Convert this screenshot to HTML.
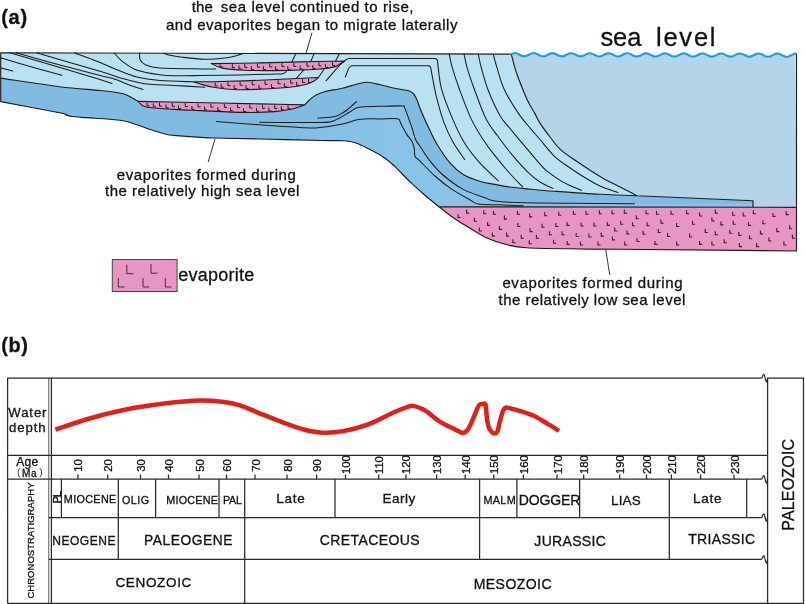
<!DOCTYPE html>
<html><head><meta charset="utf-8"><title>Figure</title>
<style>
html,body{margin:0;padding:0;background:#fff}
svg{display:block}
text{font-family:"Liberation Sans",sans-serif;fill:#111;stroke:#111;stroke-width:0.3px}
.cj{font-family:"Liberation Sans","Noto Sans CJK SC",sans-serif}
</style></head><body>
<svg width="805" height="604" viewBox="0 0 805 604">
<rect width="805" height="604" fill="#fff"/>
<path d="M0.7,101.6 C10.5,103.5 48.7,110.6 59.6,112.8 C70.5,115.0 63.9,114.3 66.0,114.9 C68.2,115.5 69.8,116.1 72.5,116.5 C75.2,116.9 78.2,117.1 82.0,117.4 C85.8,117.7 89.1,117.7 95.4,118.2 C101.7,118.7 114.2,119.6 120.0,120.3 C125.8,121.0 124.7,120.9 130.0,122.5 C135.3,124.1 145.8,128.0 152.0,130.0 C158.2,132.0 161.5,133.4 167.0,134.5 C172.5,135.6 177.2,135.7 185.0,136.3 C192.8,136.9 201.6,137.6 214.0,138.0 C226.4,138.4 241.9,138.6 259.6,139.0 C277.3,139.4 305.9,140.2 320.0,140.5 C334.1,140.8 338.0,140.4 344.0,140.8 C350.0,141.2 351.8,141.6 356.0,143.0 C360.2,144.4 364.3,146.6 369.0,149.0 C373.7,151.4 379.7,154.6 384.0,157.5 C388.3,160.4 390.7,162.7 395.0,166.7 C399.3,170.7 404.9,176.9 409.8,181.6 C414.8,186.3 419.9,190.8 424.7,195.0 C429.5,199.2 436.5,204.8 438.9,206.7 L753,207 L753,200.8 L637,195.8 C630.8,195.6 613.8,195.1 600.0,194.3 C586.2,193.6 567.0,192.2 554.5,191.3 C542.0,190.4 532.2,189.3 524.7,188.6 C517.2,187.9 514.4,187.7 509.4,187.0 C504.4,186.3 500.0,185.4 495.0,184.4 C490.0,183.4 484.9,182.8 479.6,181.2 C474.3,179.5 468.2,177.6 463.2,174.5 C458.2,171.4 454.3,167.8 449.8,162.6 C445.3,157.4 440.1,149.4 436.4,143.2 C432.7,137.0 430.1,130.9 427.5,125.3 C424.9,119.7 422.2,113.7 420.5,109.5 C418.8,105.3 418.1,102.5 417.0,100.0 C415.9,97.5 415.3,96.0 414.0,94.5 C412.7,93.0 412.6,92.0 409.4,91.0 C406.1,90.0 399.5,89.3 394.5,88.2 C389.5,87.1 384.1,85.5 379.6,84.5 C375.1,83.5 371.4,82.4 367.7,82.3 C364.0,82.2 361.5,83.0 357.3,84.0 C353.1,85.0 347.8,86.9 342.4,88.2 C336.9,89.5 329.1,90.5 324.6,91.7 C320.2,92.9 318.2,93.9 315.7,95.2 C313.2,96.5 311.5,98.1 309.7,99.7 C307.9,101.3 305.5,104.0 304.7,104.9 C297.2,104.7 273.7,104.2 259.6,103.9 C245.5,103.6 240.3,103.4 220.0,103.0 C199.7,102.6 151.7,101.7 138.0,101.4 C136.8,100.7 133.7,98.5 131.0,97.2 C128.3,95.9 127.2,94.6 122.0,93.5 C116.8,92.4 110.4,91.6 100.0,90.5 C89.6,89.4 76.2,88.8 59.6,86.7 C43.0,84.6 10.5,79.5 0.7,78.1 Z" fill="#82bbe2"/>
<defs><linearGradient id="gm" gradientUnits="userSpaceOnUse" x1="262" y1="0" x2="390" y2="0"><stop offset="0" stop-color="#82bbe2"/><stop offset="1" stop-color="#89c3e8"/></linearGradient></defs>
<path d="M259.6,122.3 C269.7,122.3 307.4,122.8 320.0,122.5 C332.6,122.2 330.0,122.0 335.0,120.3 C340.0,118.5 345.8,114.2 349.8,112.0 C353.8,109.8 353.8,108.2 358.8,107.3 C363.8,106.3 372.8,106.5 380.0,106.3 C387.2,106.1 397.9,105.7 402.0,105.9 C406.1,106.1 403.3,105.2 404.5,107.5 C405.7,109.8 407.8,116.1 409.0,119.5 C410.2,122.9 410.9,124.6 412.0,128.0 C413.1,131.4 414.5,137.0 415.8,140.0 C417.1,143.0 417.8,142.9 420.0,146.2 C422.2,149.5 425.2,154.9 428.9,159.6 C432.6,164.3 436.7,169.5 442.4,174.5 C448.1,179.5 456.2,185.6 463.2,189.4 C470.2,193.2 479.0,195.6 484.3,197.5 C489.6,199.4 488.3,200.1 495.0,201.0 C501.7,201.9 507.2,202.4 524.7,202.8 C542.2,203.2 581.7,203.2 600.0,203.4 C618.3,203.6 628.8,203.6 634.5,203.7 L753,203.7 L753,207 L438.9,206.7 C436.5,204.8 429.5,199.2 424.7,195.0 C419.9,190.8 414.8,186.3 409.8,181.6 C404.9,176.9 399.3,170.7 395.0,166.7 C390.7,162.7 388.3,160.4 384.0,157.5 C379.7,154.6 373.7,151.4 369.0,149.0 C364.3,146.6 360.2,144.4 356.0,143.0 C351.8,141.6 350.0,141.2 344.0,140.8 C338.0,140.4 334.1,140.8 320.0,140.5 C305.9,140.2 269.7,139.2 259.6,139.0 Z" fill="url(#gm)"/>
<path d="M0.7,52.7 L511.3,54.2 C511.9,56.4 513.5,63.1 514.8,67.4 C516.1,71.7 516.9,74.4 519.0,79.8 C521.1,85.2 524.7,94.4 527.3,100.0 C529.9,105.6 532.7,109.6 534.8,113.4 C536.9,117.2 537.5,119.2 540.0,123.1 C542.5,127.0 546.6,132.6 550.0,137.0 C553.4,141.4 556.0,145.5 560.5,149.6 C565.0,153.7 570.4,157.0 577.0,161.5 C583.6,166.0 592.8,172.2 600.0,176.4 C607.2,180.7 613.8,183.8 620.0,187.0 C626.2,190.2 634.2,194.3 637.0,195.8 C630.8,195.6 613.8,195.1 600.0,194.3 C586.2,193.6 567.0,192.2 554.5,191.3 C542.0,190.4 532.2,189.3 524.7,188.6 C517.2,187.9 514.4,187.7 509.4,187.0 C504.4,186.3 500.0,185.4 495.0,184.4 C490.0,183.4 484.9,182.8 479.6,181.2 C474.3,179.5 468.2,177.6 463.2,174.5 C458.2,171.4 454.3,167.8 449.8,162.6 C445.3,157.4 440.1,149.4 436.4,143.2 C432.7,137.0 430.1,130.9 427.5,125.3 C424.9,119.7 422.2,113.7 420.5,109.5 C418.8,105.3 418.1,102.5 417.0,100.0 C415.9,97.5 415.3,96.0 414.0,94.5 C412.7,93.0 412.6,92.0 409.4,91.0 C406.1,90.0 399.5,89.3 394.5,88.2 C389.5,87.1 384.1,85.5 379.6,84.5 C375.1,83.5 371.4,82.4 367.7,82.3 C364.0,82.2 361.5,83.0 357.3,84.0 C353.1,85.0 347.8,86.9 342.4,88.2 C336.9,89.5 329.1,90.5 324.6,91.7 C320.2,92.9 318.2,93.9 315.7,95.2 C313.2,96.5 311.5,98.1 309.7,99.7 C307.9,101.3 305.5,104.0 304.7,104.9 C297.2,104.7 273.7,104.2 259.6,103.9 C245.5,103.6 240.3,103.4 220.0,103.0 C199.7,102.6 151.7,101.7 138.0,101.4 C136.8,100.7 133.7,98.5 131.0,97.2 C128.3,95.9 127.2,94.6 122.0,93.5 C116.8,92.4 110.4,91.6 100.0,90.5 C89.6,89.4 76.2,88.8 59.6,86.7 C43.0,84.6 10.5,79.5 0.7,78.1 Z" fill="#b9e1f1"/>
<path d="M511.7,53.9 L514.0,53.2 L516.4,53.3 L518.7,54.3 L521.1,55.5 L523.4,56.3 L525.8,56.1 L528.1,55.2 L530.5,54.0 L532.8,53.2 L535.1,53.3 L537.5,54.3 L539.8,55.5 L542.2,56.3 L544.5,56.2 L546.9,55.2 L549.2,54.0 L551.5,53.2 L553.9,53.4 L556.2,54.3 L558.6,55.5 L560.9,56.3 L563.3,56.2 L565.6,55.2 L568.0,54.0 L570.3,53.3 L572.6,53.4 L575.0,54.3 L577.3,55.6 L579.7,56.3 L582.0,56.2 L584.4,55.3 L586.7,54.1 L589.0,53.3 L591.4,53.4 L593.7,54.4 L596.1,55.6 L598.4,56.4 L600.8,56.2 L603.1,55.3 L605.5,54.1 L607.8,53.3 L610.1,53.5 L612.5,54.4 L614.8,55.6 L617.2,56.4 L619.5,56.3 L621.9,55.3 L624.2,54.1 L626.5,53.3 L628.9,53.5 L631.2,54.4 L633.6,55.7 L635.9,56.4 L638.3,56.3 L640.6,55.4 L643.0,54.1 L645.3,53.4 L647.6,53.5 L650.0,54.5 L652.3,55.7 L654.7,56.5 L657.0,56.3 L659.4,55.4 L661.7,54.2 L664.0,53.4 L666.4,53.5 L668.7,54.5 L671.1,55.7 L673.4,56.5 L675.8,56.4 L678.1,55.4 L680.5,54.2 L682.8,53.4 L685.1,53.6 L687.5,54.5 L689.8,55.7 L692.2,56.5 L694.5,56.4 L696.9,55.4 L699.2,54.2 L701.5,53.5 L703.9,53.6 L706.2,54.6 L708.6,55.8 L710.9,56.6 L713.3,56.4 L715.6,55.5 L718.0,54.3 L720.3,53.5 L722.6,53.6 L725.0,54.6 L727.3,55.8 L729.7,56.6 L732.0,56.5 L734.4,55.5 L736.7,54.3 L739.0,53.5 L741.4,53.7 L743.7,54.6 L746.1,55.8 L748.4,56.6 L750.8,56.5 L753.1,55.5 L755.5,54.3 L757.8,53.6 L760.1,53.7 L762.5,54.6 L764.8,55.9 L767.2,56.6 L769.5,56.5 L771.9,55.6 L774.2,54.4 L776.5,53.6 L778.9,53.7 L781.2,54.7 L783.6,55.9 L785.9,56.7 L788.3,56.5 L790.6,55.6 L793.0,54.4 L795.3,53.6 L796.5,207.2 L753,207.2 L753,200.8 L637,195.8 C634.2,194.3 626.2,190.2 620.0,187.0 C613.8,183.8 607.2,180.7 600.0,176.4 C592.8,172.2 583.6,166.0 577.0,161.5 C570.4,157.0 565.0,153.7 560.5,149.6 C556.0,145.5 553.4,141.4 550.0,137.0 C546.6,132.6 542.5,127.0 540.0,123.1 C537.5,119.2 536.9,117.2 534.8,113.4 C532.7,109.6 529.9,105.6 527.3,100.0 C524.7,94.4 521.1,85.2 519.0,79.8 C516.9,74.4 516.1,71.7 514.8,67.4 C513.5,63.1 511.9,56.4 511.3,54.2 Z" fill="#b4d4ea"/>
<path d="M438.9,206.7 C441.1,208.4 447.2,213.4 452.3,217.0 C457.4,220.6 463.9,224.6 469.7,228.1 C475.5,231.6 480.8,235.2 487.0,238.0 C493.2,240.8 500.4,243.2 507.0,244.8 C513.6,246.4 516.5,247.1 526.8,247.8 C537.1,248.5 553.5,248.6 569.0,248.8 C584.5,249.1 611.5,249.2 620.0,249.3 L796.5,251 L796.5,207.3 L438.9,206.7 Z" fill="#e795c2"/>
<path d="M211.2,63.6 C219.3,63.5 245.2,63.2 260.0,62.9 C274.8,62.6 285.7,62.2 299.8,61.9 C313.9,61.6 337.1,61.1 344.6,61.0 C342.9,62.0 338.8,65.6 334.6,66.9 C330.4,68.2 325.4,68.5 319.6,69.0 C313.8,69.5 307.3,69.7 299.8,70.0 C292.3,70.3 283.7,70.5 274.5,70.6 C265.3,70.6 253.4,70.7 244.7,70.3 C236.0,69.9 228.0,69.2 222.4,68.1 C216.8,67.0 213.1,64.3 211.2,63.6 Z" fill="#e795c2" stroke="#1c1c1c" stroke-width="1.1" stroke-linejoin="round"/>
<path d="M193.0,81.8 C197.5,81.8 208.9,81.8 220.0,81.5 C231.1,81.2 246.8,80.8 259.6,80.3 C272.4,79.8 287.2,79.0 297.0,78.5 C306.8,78.0 314.8,77.7 318.4,77.5 C317.6,78.1 316.0,80.1 313.7,81.3 C311.4,82.5 308.7,83.8 304.7,84.8 C300.7,85.8 297.3,86.6 289.8,87.3 C282.3,88.0 268.4,88.8 259.6,89.2 C250.8,89.6 244.4,90.0 237.0,89.7 C229.6,89.4 221.2,88.5 215.0,87.5 C208.8,86.5 203.7,85.0 200.0,84.0 C196.3,83.0 194.2,82.2 193.0,81.8 Z" fill="#e795c2" stroke="#1c1c1c" stroke-width="1.1" stroke-linejoin="round"/>
<path d="M138.0,101.4 C151.7,101.7 199.7,102.6 220.0,103.0 C240.3,103.4 245.5,103.6 259.6,103.9 C273.7,104.2 297.2,104.7 304.7,104.9 C302.6,105.6 297.4,107.9 292.4,109.0 C287.4,110.1 282.4,111.0 274.5,111.6 C266.6,112.2 257.1,112.6 244.7,112.4 C232.3,112.2 211.7,111.1 200.0,110.6 C188.3,110.1 183.5,110.0 174.5,109.4 C165.5,108.8 152.1,108.3 146.0,107.0 C139.9,105.7 139.3,102.3 138.0,101.4 Z" fill="#e795c2" stroke="#1c1c1c" stroke-width="1.1" stroke-linejoin="round"/>
<path d="M220.2,64.4 v2.5 h2.6 M232.4,64.2 v3.4 h2.6 M239.0,65.4 V68.8 h2.6 M244.8,64.0 v3.4 h2.6 M251.3,66.1 V69.5 h2.6 M257.5,63.8 v3.4 h2.6 M263.4,66.2 V69.6 h2.6 M269.8,63.6 v3.4 h2.6 M275.6,66.3 V69.7 h2.6 M282.0,63.2 v3.4 h2.6 M287.8,66.0 V69.4 h2.6 M293.8,63.0 v3.4 h2.6 M300.1,65.7 V69.1 h2.6 M306.9,62.7 v3.4 h2.6 M312.8,65.0 V68.4 h2.6 M318.9,62.4 v3.4 h2.6 M325.4,63.9 V67.3 h2.6 M332.4,62.1 v3.4 h2.6 M215.2,82.5 v3.4 h2.6 M221.1,83.8 V87.2 h2.6 M227.9,82.2 v3.4 h2.6 M234.1,85.1 V88.5 h2.6 M240.1,81.8 v3.4 h2.6 M246.0,85.2 V88.6 h2.6 M252.2,81.4 v3.4 h2.6 M258.9,84.9 V88.3 h2.6 M265.0,80.9 v3.4 h2.6 M271.5,84.2 V87.6 h2.6 M278.0,80.3 v3.4 h2.6 M284.3,83.3 V86.7 h2.6 M290.7,79.7 v3.4 h2.6 M296.6,81.9 V85.3 h2.6 M302.5,79.1 v3.4 h2.6 M308.5,79.0 V82.4 h2.6 M147.0,102.5 v3.4 h2.6 M153.3,103.3 V106.7 h2.6 M159.5,102.7 v3.4 h2.6 M166.0,104.4 V107.8 h2.6 M172.3,103.0 v3.4 h2.6 M178.5,105.3 V108.7 h2.6 M185.2,103.2 v3.4 h2.6 M191.9,105.9 V109.3 h2.6 M198.0,103.5 v3.4 h2.6 M204.5,106.5 V109.9 h2.6 M210.9,103.7 v3.4 h2.6 M217.8,107.0 V110.4 h2.6 M224.4,104.0 v3.4 h2.6 M230.6,107.5 V110.9 h2.6 M237.5,104.3 v3.4 h2.6 M243.5,108.1 V111.5 h2.6 M249.8,104.6 v3.4 h2.6 M256.5,107.8 V111.2 h2.6 M262.5,104.9 v3.4 h2.6 M268.9,107.5 V110.9 h2.6 M274.7,105.1 v3.4 h2.6 M281.3,106.3 V109.7 h2.6 M288.0,105.4 v3.4 h2.6" fill="none" stroke="#2a1826" stroke-width="1"/>
<path d="M458.1,214.0 V217.5 h2.6 M466.6,209.6 V213.1 h2.6 M483.8,210.2 V213.7 h2.6 M493.5,210.7 V214.2 h2.6 M504.4,215.6 V219.1 h2.6 M517.4,210.7 V214.2 h2.6 M529.7,213.4 V216.9 h2.6 M544.7,212.2 V215.7 h2.6 M558.8,211.8 V215.3 h2.6 M573.3,210.7 V214.2 h2.6 M586.0,210.7 V214.2 h2.6 M599.4,210.2 V213.7 h2.6 M612.0,210.2 V213.7 h2.6 M474.4,217.8 V221.3 h2.6 M487.6,221.9 V225.4 h2.6 M499.5,225.9 V229.4 h2.6 M517.8,223.0 V226.5 h2.6 M542.0,223.7 V227.2 h2.6 M555.8,223.0 V226.5 h2.6 M567.0,221.9 V225.4 h2.6 M581.1,222.5 V226.0 h2.6 M593.9,222.5 V226.0 h2.6 M607.3,221.9 V225.4 h2.6 M614.7,227.5 V231.0 h2.6 M479.4,227.5 V231.0 h2.6 M492.3,232.6 V236.1 h2.6 M506.6,232.6 V236.1 h2.6 M530.1,228.1 V231.6 h2.6 M521.2,234.8 V238.3 h2.6 M536.4,234.8 V238.3 h2.6 M549.4,231.3 V234.8 h2.6 M562.1,231.3 V234.8 h2.6 M576.2,233.0 V236.5 h2.6 M588.9,233.5 V237.0 h2.6 M601.2,232.6 V236.1 h2.6 M612.4,236.4 V239.9 h2.6 M512.9,239.3 V242.8 h2.6 M529.2,240.2 V243.7 h2.6 M553.6,239.8 V243.3 h2.6 M567.2,240.9 V244.4 h2.6 M580.4,241.5 V245.0 h2.6 M597.9,241.5 V245.0 h2.6 M624.3,209.6 V213.1 h2.6 M646.0,210.2 V213.7 h2.6 M656.5,210.7 V214.2 h2.6 M671.0,210.7 V214.2 h2.6 M686.6,210.2 V213.7 h2.6 M699.6,212.5 V216.0 h2.6 M715.3,209.6 V213.1 h2.6 M732.7,211.8 V215.3 h2.6 M743.2,212.5 V216.0 h2.6 M753.3,210.2 V213.7 h2.6 M773.0,212.9 V216.4 h2.6 M786.2,211.1 V214.6 h2.6 M636.3,215.2 V218.7 h2.6 M620.7,220.7 V224.2 h2.6 M632.5,222.3 V225.8 h2.6 M647.1,222.3 V225.8 h2.6 M660.9,219.6 V223.1 h2.6 M676.6,223.0 V226.5 h2.6 M692.5,220.7 V224.2 h2.6 M711.9,217.4 V220.9 h2.6 M720.9,221.4 V224.9 h2.6 M733.2,220.7 V224.2 h2.6 M748.4,221.9 V225.4 h2.6 M762.9,220.3 V223.8 h2.6 M789.7,225.2 V228.7 h2.6 M626.9,230.4 V233.9 h2.6 M643.0,230.8 V234.3 h2.6 M658.3,229.0 V232.5 h2.6 M667.6,233.0 V236.5 h2.6 M689.6,233.5 V237.0 h2.6 M705.2,229.0 V232.5 h2.6 M715.3,231.3 V234.8 h2.6 M729.8,229.7 V233.2 h2.6 M738.8,231.9 V235.4 h2.6 M749.5,235.3 V238.8 h2.6 M760.4,230.4 V233.9 h2.6 M776.8,228.1 V231.6 h2.6 M792.4,234.8 V238.3 h2.6 M624.7,241.5 V245.0 h2.6 M637.0,238.0 V241.5 h2.6 M654.9,240.9 V244.4 h2.6 M676.6,241.5 V245.0 h2.6 M699.6,240.9 V244.4 h2.6 M711.9,241.5 V245.0 h2.6 M724.2,239.3 V242.8 h2.6 M739.4,243.1 V246.6 h2.6 M756.6,243.1 V246.6 h2.6 M768.9,237.5 V241.0 h2.6 M783.9,241.5 V245.0 h2.6" fill="none" stroke="#3a2038" stroke-width="1.1"/>
<path d="M1.2,68.1 L12.7,71.1 M0.7,57.7 C5.6,59.2 19.8,63.6 30.0,66.5 C40.2,69.4 56.6,73.8 61.9,75.3 M9.7,52.7 C18.1,55.2 45.0,63.0 60.0,67.4 C75.0,71.8 91.3,76.7 100.0,79.4 C108.7,82.1 110.0,82.8 112.0,83.5 M16.0,52.7 C23.3,54.8 46.0,61.2 60.0,65.0 C74.0,68.8 90.8,73.1 100.0,75.5 C109.2,77.9 110.0,77.7 115.0,79.3 C120.0,80.9 125.3,83.5 130.0,85.2 C134.7,86.9 140.8,88.7 143.0,89.4 M36.5,52.8 C47.1,55.9 85.7,67.0 100.0,71.3 C114.3,75.6 115.0,76.4 122.4,78.5 C129.8,80.6 136.0,82.6 144.7,83.8 C153.4,85.0 164.4,84.9 174.5,85.5 C184.6,86.1 199.9,86.9 205.0,87.2 M74.5,52.9 C78.8,54.5 93.2,59.7 100.0,62.4 C106.8,65.1 108.8,66.5 115.0,68.9 C121.2,71.3 129.5,75.1 137.0,77.0 C144.5,78.9 150.7,79.7 160.0,80.5 C169.3,81.3 187.5,81.6 193.0,81.8 M114.2,53.0 C115.6,54.4 118.6,58.5 122.4,61.4 C126.2,64.3 131.1,68.1 137.3,70.3 C143.5,72.5 153.3,73.9 159.6,74.8 C165.9,75.7 168.3,75.7 175.0,75.8 C181.7,75.9 189.2,75.7 200.0,75.5 C210.8,75.3 228.3,75.1 240.0,74.9 C251.7,74.7 263.1,74.4 270.0,74.2 C276.9,74.0 279.2,74.2 281.7,73.9 C284.2,73.6 284.2,73.1 285.0,72.6 C285.8,72.1 286.4,71.2 286.7,70.9 M139.5,53.1 C139.6,54.3 139.2,58.0 140.3,60.0 C141.4,62.0 142.8,63.7 146.0,65.0 C149.2,66.3 149.9,67.3 159.6,68.0 C169.3,68.7 194.7,68.7 204.0,68.9 C213.3,69.1 213.8,69.0 215.7,69.0 M163.5,53.2 C164.6,53.5 166.9,54.6 170.0,55.3 C173.1,56.0 176.4,56.6 182.2,57.2 C187.9,57.9 197.0,59.1 204.5,59.2 C212.0,59.3 221.6,58.3 227.0,57.7 C232.4,57.1 234.3,56.3 237.0,55.6 C239.7,54.9 242.2,53.8 243.3,53.4 M295.8,53.6 L291.8,61.9 M314.2,53.6 L310.7,61.5 M339.4,53.7 L335.7,60.8 M303.7,70.0 L296.3,78.3 M324.6,68.5 L318.6,77.3 M326.0,80.8 C328.3,78.2 336.6,68.5 340.0,64.9 C343.4,61.4 344.9,60.6 346.5,59.5 C348.1,58.4 349.0,58.6 349.5,58.4 M349.5,58.4 L435,58.4  C435.4,58.7 436.8,58.5 437.3,60.0 C437.8,61.5 437.5,62.5 438.2,67.4 C438.9,72.4 439.3,81.0 441.7,89.7 C444.1,98.4 449.0,110.5 452.8,119.4 C456.6,128.3 460.2,136.0 464.7,143.2 C469.2,150.4 474.0,156.3 479.6,162.6 C485.2,168.9 495.2,177.8 498.3,180.8 M345.3,77.0 C345.8,75.8 347.2,71.7 348.0,70.0 C348.8,68.3 349.1,67.7 349.8,67.0 C350.5,66.3 351.6,65.9 352.0,65.7 L428,65.7  C428.4,66.0 429.8,65.7 430.5,67.2 C431.2,68.7 431.0,69.8 432.0,74.8 C433.0,79.8 434.5,89.3 436.5,97.2 C438.5,105.1 441.2,115.0 443.9,122.4 C446.6,129.8 449.3,135.5 452.8,141.7 C456.3,147.9 462.7,156.6 464.7,159.6 M449.2,54.0 C449.7,56.3 450.5,61.5 452.2,67.4 C453.9,73.3 456.5,81.3 459.6,89.7 C462.7,98.1 466.9,109.7 470.7,117.9 C474.5,126.1 478.6,132.6 482.6,138.8 C486.6,145.0 490.0,149.5 494.5,155.2 C499.0,160.9 504.7,167.7 509.4,173.0 C514.1,178.3 520.6,184.8 522.9,187.2 M464.1,54.1 C464.6,56.3 465.3,61.5 467.0,67.4 C468.7,73.3 471.4,81.3 474.5,89.7 C477.6,98.1 481.8,110.2 485.6,117.9 C489.4,125.6 493.0,129.6 497.5,135.8 C502.0,142.0 507.4,149.2 512.4,155.2 C517.4,161.2 522.7,167.1 527.3,171.6 C531.9,176.1 535.7,179.2 540.0,182.0 C544.3,184.8 550.8,187.3 553.0,188.4 M478.3,54.1 C478.8,56.3 479.6,61.5 481.2,67.4 C482.8,73.3 484.8,81.5 488.0,89.7 C491.2,97.9 496.4,109.5 500.5,116.4 C504.6,123.3 507.9,125.8 512.4,131.3 C516.9,136.8 522.7,143.7 527.3,149.2 C531.9,154.7 536.7,160.4 540.0,164.1 C543.3,167.8 543.1,168.1 547.0,171.2 C550.9,174.2 557.8,179.2 563.5,182.4 C569.2,185.6 578.4,189.0 581.4,190.3 M493.2,54.2 C493.8,56.4 495.0,61.5 496.9,67.4 C498.8,73.3 500.8,82.0 504.4,89.7 C508.0,97.4 514.1,107.0 518.4,113.4 C522.7,119.8 526.7,124.0 530.3,128.3 C533.9,132.7 536.0,134.8 540.0,139.5 C544.0,144.2 549.6,151.6 554.5,156.3 C559.4,161.0 564.4,164.0 569.4,167.5 C574.4,171.0 579.2,174.1 584.3,177.2 C589.4,180.3 594.4,183.5 600.0,186.1 C605.6,188.7 615.0,191.4 618.0,192.5 M317.8,118.1 C320.7,117.8 330.6,117.6 335.0,116.6 C339.4,115.6 341.5,113.5 344.0,112.0 C346.5,110.5 347.7,109.3 349.8,107.6 C351.9,105.9 355.4,102.6 356.5,101.6 M259.6,122.3 C269.7,122.3 307.4,122.8 320.0,122.5 C332.6,122.2 330.0,122.0 335.0,120.3 C340.0,118.5 345.8,114.2 349.8,112.0 C353.8,109.8 353.8,108.2 358.8,107.3 C363.8,106.3 372.8,106.5 380.0,106.3 C387.2,106.1 397.9,105.7 402.0,105.9 C406.1,106.1 403.3,105.2 404.5,107.5 C405.7,109.8 407.8,116.1 409.0,119.5 C410.2,122.9 410.9,124.6 412.0,128.0 C413.1,131.4 414.5,137.0 415.8,140.0 C417.1,143.0 417.8,142.9 420.0,146.2 C422.2,149.5 425.2,154.9 428.9,159.6 C432.6,164.3 436.7,169.5 442.4,174.5 C448.1,179.5 456.2,185.6 463.2,189.4 C470.2,193.2 479.0,195.6 484.3,197.5 C489.6,199.4 488.3,200.1 495.0,201.0 C501.7,201.9 507.2,202.4 524.7,202.8 C542.2,203.2 581.7,203.2 600.0,203.4 C618.3,203.6 628.8,203.6 634.5,203.7 M216.4,121.5 C223.6,122.0 244.9,123.8 259.6,124.8 C274.3,125.8 294.3,127.3 304.4,127.8 C314.5,128.2 313.7,128.1 320.0,127.5 C326.3,126.9 335.7,125.4 342.4,124.0 C349.1,122.6 353.9,120.0 360.2,119.2 C366.5,118.4 373.8,119.0 380.0,118.9 C386.2,118.8 394.0,118.0 397.5,118.8 C401.0,119.6 399.5,121.4 401.0,124.0 C402.5,126.6 404.9,131.5 406.7,134.4 C408.5,137.3 410.7,139.0 412.0,141.4 C413.3,143.8 413.8,146.4 414.3,148.9 C414.8,151.4 414.1,154.3 415.0,156.3 C415.9,158.3 416.7,157.8 420.0,161.1 C423.3,164.4 429.6,171.3 434.9,176.0 C440.2,180.7 446.2,185.5 452.0,189.4 C457.8,193.3 465.0,197.1 469.4,199.5 C473.8,201.9 473.3,203.1 478.4,204.0 C483.5,204.9 492.5,204.5 500.0,204.8 C507.5,205.1 519.3,205.6 523.2,205.8" fill="none" stroke="#1c1c1c" stroke-width="1.05" stroke-linecap="round" stroke-linejoin="round"/>
<path d="M511.3,54.2 L0.7,52.7 L0.7,101.6 C10.5,103.5 48.7,110.6 59.6,112.8 C70.5,115.0 63.9,114.3 66.0,114.9 C68.2,115.5 69.8,116.1 72.5,116.5 C75.2,116.9 78.2,117.1 82.0,117.4 C85.8,117.7 89.1,117.7 95.4,118.2 C101.7,118.7 114.2,119.6 120.0,120.3 C125.8,121.0 124.7,120.9 130.0,122.5 C135.3,124.1 145.8,128.0 152.0,130.0 C158.2,132.0 161.5,133.4 167.0,134.5 C172.5,135.6 177.2,135.7 185.0,136.3 C192.8,136.9 201.6,137.6 214.0,138.0 C226.4,138.4 241.9,138.6 259.6,139.0 C277.3,139.4 305.9,140.2 320.0,140.5 C334.1,140.8 338.0,140.4 344.0,140.8 C350.0,141.2 351.8,141.6 356.0,143.0 C360.2,144.4 364.3,146.6 369.0,149.0 C373.7,151.4 379.7,154.6 384.0,157.5 C388.3,160.4 390.7,162.7 395.0,166.7 C399.3,170.7 404.9,176.9 409.8,181.6 C414.8,186.3 419.9,190.8 424.7,195.0 C429.5,199.2 436.5,204.8 438.9,206.7 C441.1,208.4 447.2,213.4 452.3,217.0 C457.4,220.6 463.9,224.6 469.7,228.1 C475.5,231.6 480.8,235.2 487.0,238.0 C493.2,240.8 500.4,243.2 507.0,244.8 C513.6,246.4 516.5,247.1 526.8,247.8 C537.1,248.5 553.5,248.6 569.0,248.8 C584.5,249.1 611.5,249.2 620.0,249.3 L796.5,251 L796.5,53.6 M511.3,54.2 C511.9,56.4 513.5,63.1 514.8,67.4 C516.1,71.7 516.9,74.4 519.0,79.8 C521.1,85.2 524.7,94.4 527.3,100.0 C529.9,105.6 532.7,109.6 534.8,113.4 C536.9,117.2 537.5,119.2 540.0,123.1 C542.5,127.0 546.6,132.6 550.0,137.0 C553.4,141.4 556.0,145.5 560.5,149.6 C565.0,153.7 570.4,157.0 577.0,161.5 C583.6,166.0 592.8,172.2 600.0,176.4 C607.2,180.7 613.8,183.8 620.0,187.0 C626.2,190.2 634.2,194.3 637.0,195.8 M304.7,104.9 C305.5,104.0 307.9,101.3 309.7,99.7 C311.5,98.1 313.2,96.5 315.7,95.2 C318.2,93.9 320.2,92.9 324.6,91.7 C329.1,90.5 336.9,89.5 342.4,88.2 C347.8,86.9 353.1,85.0 357.3,84.0 C361.5,83.0 364.0,82.2 367.7,82.3 C371.4,82.4 375.1,83.5 379.6,84.5 C384.1,85.5 389.5,87.1 394.5,88.2 C399.5,89.3 406.1,90.0 409.4,91.0 C412.6,92.0 412.7,93.0 414.0,94.5 C415.3,96.0 415.9,97.5 417.0,100.0 C418.1,102.5 418.8,105.3 420.5,109.5 C422.2,113.7 424.9,119.7 427.5,125.3 C430.1,130.9 432.7,137.0 436.4,143.2 C440.1,149.4 445.3,157.4 449.8,162.6 C454.3,167.8 458.2,171.4 463.2,174.5 C468.2,177.6 474.3,179.5 479.6,181.2 C484.9,182.8 490.0,183.4 495.0,184.4 C500.0,185.4 504.4,186.3 509.4,187.0 C514.4,187.7 517.2,187.9 524.7,188.6 C532.2,189.3 542.0,190.4 554.5,191.3 C567.0,192.2 586.2,193.6 600.0,194.3 C613.8,195.1 630.8,195.6 637.0,195.8 M0.7,78.1 C10.5,79.5 43.0,84.6 59.6,86.7 C76.2,88.8 89.6,89.4 100.0,90.5 C110.4,91.6 116.8,92.4 122.0,93.5 C127.2,94.6 128.3,95.9 131.0,97.2 C133.7,98.5 136.8,100.7 138.0,101.4 M637,195.8 L753,200.8 L753,207.2 M438.9,206.8 L796.5,207.3" fill="none" stroke="#1c1c1c" stroke-width="1.15" stroke-linejoin="round"/>
<path d="M511.7,53.9 C512.1,53.8 513.3,53.3 514.0,53.2 C514.8,53.1 515.6,53.1 516.4,53.3 C517.2,53.5 518.0,53.9 518.7,54.3 C519.5,54.6 520.3,55.1 521.1,55.5 C521.9,55.8 522.6,56.1 523.4,56.3 C524.2,56.4 525.0,56.3 525.8,56.1 C526.5,55.9 527.3,55.5 528.1,55.2 C528.9,54.8 529.7,54.3 530.5,54.0 C531.2,53.6 532.0,53.3 532.8,53.2 C533.6,53.1 534.4,53.2 535.1,53.3 C535.9,53.5 536.7,53.9 537.5,54.3 C538.3,54.7 539.0,55.2 539.8,55.5 C540.6,55.8 541.4,56.2 542.2,56.3 C543.0,56.4 543.7,56.3 544.5,56.2 C545.3,56.0 546.1,55.6 546.9,55.2 C547.6,54.8 548.4,54.3 549.2,54.0 C550.0,53.7 550.8,53.3 551.5,53.2 C552.3,53.1 553.1,53.2 553.9,53.4 C554.7,53.5 555.5,54.0 556.2,54.3 C557.0,54.7 557.8,55.2 558.6,55.5 C559.4,55.9 560.1,56.2 560.9,56.3 C561.7,56.4 562.5,56.4 563.3,56.2 C564.0,56.0 564.8,55.6 565.6,55.2 C566.4,54.9 567.2,54.4 568.0,54.0 C568.7,53.7 569.5,53.4 570.3,53.3 C571.1,53.2 571.9,53.2 572.6,53.4 C573.4,53.6 574.2,54.0 575.0,54.3 C575.8,54.7 576.5,55.2 577.3,55.6 C578.1,55.9 578.9,56.2 579.7,56.3 C580.5,56.5 581.2,56.4 582.0,56.2 C582.8,56.0 583.6,55.6 584.4,55.3 C585.1,54.9 585.9,54.4 586.7,54.1 C587.5,53.7 588.3,53.4 589.0,53.3 C589.8,53.2 590.6,53.2 591.4,53.4 C592.2,53.6 593.0,54.0 593.7,54.4 C594.5,54.7 595.3,55.3 596.1,55.6 C596.9,55.9 597.6,56.3 598.4,56.4 C599.2,56.5 600.0,56.4 600.8,56.2 C601.5,56.1 602.3,55.7 603.1,55.3 C603.9,54.9 604.7,54.4 605.5,54.1 C606.2,53.8 607.0,53.4 607.8,53.3 C608.6,53.2 609.4,53.3 610.1,53.5 C610.9,53.6 611.7,54.0 612.5,54.4 C613.3,54.8 614.0,55.3 614.8,55.6 C615.6,56.0 616.4,56.3 617.2,56.4 C618.0,56.5 618.7,56.5 619.5,56.3 C620.3,56.1 621.1,55.7 621.9,55.3 C622.6,55.0 623.4,54.4 624.2,54.1 C625.0,53.8 625.8,53.5 626.5,53.3 C627.3,53.2 628.1,53.3 628.9,53.5 C629.7,53.7 630.5,54.1 631.2,54.4 C632.0,54.8 632.8,55.3 633.6,55.7 C634.4,56.0 635.1,56.3 635.9,56.4 C636.7,56.5 637.5,56.5 638.3,56.3 C639.0,56.1 639.8,55.7 640.6,55.4 C641.4,55.0 642.2,54.5 643.0,54.1 C643.7,53.8 644.5,53.5 645.3,53.4 C646.1,53.3 646.9,53.3 647.6,53.5 C648.4,53.7 649.2,54.1 650.0,54.5 C650.8,54.8 651.5,55.4 652.3,55.7 C653.1,56.0 653.9,56.4 654.7,56.5 C655.5,56.6 656.2,56.5 657.0,56.3 C657.8,56.2 658.6,55.7 659.4,55.4 C660.1,55.0 660.9,54.5 661.7,54.2 C662.5,53.8 663.3,53.5 664.0,53.4 C664.8,53.3 665.6,53.4 666.4,53.5 C667.2,53.7 668.0,54.1 668.7,54.5 C669.5,54.9 670.3,55.4 671.1,55.7 C671.9,56.1 672.6,56.4 673.4,56.5 C674.2,56.6 675.0,56.5 675.8,56.4 C676.5,56.2 677.3,55.8 678.1,55.4 C678.9,55.1 679.7,54.5 680.5,54.2 C681.2,53.9 682.0,53.5 682.8,53.4 C683.6,53.3 684.4,53.4 685.1,53.6 C685.9,53.8 686.7,54.2 687.5,54.5 C688.3,54.9 689.0,55.4 689.8,55.7 C690.6,56.1 691.4,56.4 692.2,56.5 C693.0,56.6 693.7,56.6 694.5,56.4 C695.3,56.2 696.1,55.8 696.9,55.4 C697.6,55.1 698.4,54.6 699.2,54.2 C700.0,53.9 700.8,53.6 701.5,53.5 C702.3,53.4 703.1,53.4 703.9,53.6 C704.7,53.8 705.5,54.2 706.2,54.6 C707.0,54.9 707.8,55.4 708.6,55.8 C709.4,56.1 710.1,56.4 710.9,56.6 C711.7,56.7 712.5,56.6 713.3,56.4 C714.0,56.2 714.8,55.8 715.6,55.5 C716.4,55.1 717.2,54.6 718.0,54.3 C718.7,53.9 719.5,53.6 720.3,53.5 C721.1,53.4 721.9,53.5 722.6,53.6 C723.4,53.8 724.2,54.2 725.0,54.6 C725.8,55.0 726.5,55.5 727.3,55.8 C728.1,56.1 728.9,56.5 729.7,56.6 C730.5,56.7 731.2,56.6 732.0,56.5 C732.8,56.3 733.6,55.9 734.4,55.5 C735.1,55.1 735.9,54.6 736.7,54.3 C737.5,54.0 738.3,53.6 739.0,53.5 C739.8,53.4 740.6,53.5 741.4,53.7 C742.2,53.8 743.0,54.3 743.7,54.6 C744.5,55.0 745.3,55.5 746.1,55.8 C746.9,56.2 747.6,56.5 748.4,56.6 C749.2,56.7 750.0,56.7 750.8,56.5 C751.5,56.3 752.3,55.9 753.1,55.5 C753.9,55.2 754.7,54.7 755.5,54.3 C756.2,54.0 757.0,53.7 757.8,53.6 C758.6,53.5 759.4,53.5 760.1,53.7 C760.9,53.9 761.7,54.3 762.5,54.6 C763.3,55.0 764.0,55.5 764.8,55.9 C765.6,56.2 766.4,56.5 767.2,56.6 C768.0,56.8 768.7,56.7 769.5,56.5 C770.3,56.3 771.1,55.9 771.9,55.6 C772.6,55.2 773.4,54.7 774.2,54.4 C775.0,54.0 775.8,53.7 776.5,53.6 C777.3,53.5 778.1,53.5 778.9,53.7 C779.7,53.9 780.5,54.3 781.2,54.7 C782.0,55.0 782.8,55.6 783.6,55.9 C784.4,56.2 785.1,56.6 785.9,56.7 C786.7,56.8 787.5,56.7 788.3,56.5 C789.0,56.4 789.8,56.0 790.6,55.6 C791.4,55.2 792.2,54.7 793.0,54.4 C793.7,54.1 794.9,53.7 795.3,53.6" fill="none" stroke="#1b9fd8" stroke-width="2.1" stroke-linecap="round"/>
<path d="M312,32.6 L306,53.3 M215,139 L208.2,162 M605.7,249.5 L609.8,275" stroke="#1c1c1c" stroke-width="0.9" fill="none"/>
<rect x="112.3" y="259.5" width="64.8" height="32" fill="#e795c2" stroke="#444" stroke-width="1"/>
<path d="M126.8,264.7 v9 h6.5 M151,264.2 v9 h6.5 M118.3,278 v9 h6.2 M143,278 v9 h6.2 M165.3,278 v9 h6.2" fill="none" stroke="#4a2a48" stroke-width="1"/>
<path d="M48.7,378 V603.3" fill="none" stroke="#777" stroke-width="1.2"/>
<path d="M7.6,603.3 V378 H761.3 c1.3,0 1.5,-3.6 2.5,-3.6 s1.7,7.4 2.6,7.4 s0.8,-3.8 1.2,-3.8 M767.6,603.3 V378 H803.5 V603.3 H7.6 M51.4,378 V603.3 M7.6,455.3 H767.6 M7.6,479.2 H761.3 c1.3,0 1.5,-3.6 2.5,-3.6 s1.7,7.4 2.6,7.4 s0.8,-3.8 1.2,-3.8 M48.6,517.5 H761.3 c1.3,0 1.5,-3.6 2.5,-3.6 s1.7,7.4 2.6,7.4 s0.8,-3.8 1.2,-3.8 M48.6,559.3 H761.3 c1.3,0 1.5,-3.6 2.5,-3.6 s1.7,7.4 2.6,7.4 s0.8,-3.8 1.2,-3.8 M61.4,479.2 V517.5 M155.6,479.2 V517.5 M219,479.2 V517.5 M335,479.2 V517.5 M516.9,479.2 V517.5 M579.6,479.2 V517.5 M746.7,479.2 V517.5 M118.3,479.2 V559.3 M669.3,479.2 V559.3 M479.6,479.2 V559.3 M244.7,479.2 V603.3 M77.9,474.6 V479.2 M107.7,474.6 V479.2 M140.5,474.6 V479.2 M168.5,474.6 V479.2 M199,474.6 V479.2 M226.5,474.6 V479.2 M255,474.6 V479.2 M287,474.6 V479.2 M316.6,474.6 V479.2 M345.5,474.6 V479.2 M378.7,474.6 V479.2 M405.9,474.6 V479.2 M436.6,474.6 V479.2 M465.2,474.6 V479.2 M493.8,474.6 V479.2 M523.4,474.6 V479.2 M557,474.6 V479.2 M583.7,474.6 V479.2 M619.7,474.6 V479.2 M646.5,474.6 V479.2 M671.4,474.6 V479.2 M700.7,474.6 V479.2 M734,474.6 V479.2" fill="none" stroke="#2a2a2a" stroke-width="1.25"/>
<path d="M55.4,429.7 C61.1,427.8 77.8,421.9 89.7,418.5 C101.6,415.1 114.6,411.8 127.0,409.3 C139.4,406.8 152.2,405.1 164.2,403.6 C176.2,402.2 189.1,400.9 199.0,400.6 C208.9,400.3 217.1,401.1 223.9,401.9 C230.7,402.7 234.3,403.6 239.9,405.3 C245.5,407.0 250.3,409.5 257.3,412.3 C264.3,415.1 274.2,419.3 282.1,422.2 C290.0,425.1 297.5,427.9 304.5,429.7 C311.5,431.4 317.7,432.5 324.3,432.7 C330.9,432.9 336.8,432.3 344.2,430.9 C351.6,429.5 360.7,427.3 369.0,424.2 C377.3,421.1 387.7,415.1 393.9,412.3 C400.1,409.5 403.0,408.4 406.3,407.3 C409.6,406.2 410.4,405.4 413.5,405.9 C416.6,406.4 420.4,407.7 424.8,410.3 C429.2,412.9 434.8,418.6 439.8,421.7 C444.8,424.8 451.3,427.5 454.7,429.2 C458.1,430.9 458.6,431.4 460.0,432.0 C461.4,432.6 461.9,433.3 463.2,433.0 C464.4,432.7 466.2,431.6 467.5,430.0 C468.8,428.4 470.0,425.9 471.2,423.3 C472.4,420.7 473.8,417.1 474.9,414.4 C476.0,411.7 477.1,408.6 477.9,406.9 C478.7,405.2 479.1,404.8 479.9,404.3 C480.7,403.8 481.8,403.9 482.7,403.9 C483.6,403.9 484.9,402.9 485.5,404.5 C486.1,406.1 486.2,410.9 486.5,413.6 C486.8,416.4 486.9,418.6 487.3,421.0 C487.7,423.4 488.2,425.9 489.0,427.8 C489.8,429.7 491.1,431.3 492.0,432.3 C492.9,433.3 493.7,433.7 494.6,433.6 C495.5,433.5 496.6,433.0 497.3,431.5 C498.1,430.0 498.4,427.4 499.1,424.8 C499.8,422.2 500.7,418.3 501.4,415.9 C502.1,413.5 502.5,412.0 503.2,410.6 C503.9,409.2 504.7,408.3 505.3,407.8 C505.9,407.3 505.9,407.4 507.0,407.6 C508.1,407.8 510.0,408.2 512.2,408.8 C514.4,409.4 516.3,409.8 520.0,411.0 C523.7,412.2 529.4,413.7 534.2,416.0 C539.0,418.3 544.9,422.2 549.0,424.7 C553.1,427.2 557.3,429.9 559.0,430.9" fill="none" stroke="#dc2319" stroke-width="4.5" stroke-linejoin="round"/>
<text y="477.4" font-size="10"><tspan x="10.8" class="cj" style="stroke-width:0">（</tspan><tspan x="21.9" style="letter-spacing:0.9px">Ma</tspan><tspan x="39.1" class="cj" style="stroke-width:0">）</tspan></text>
<text x="1.2" y="23.8" font-size="20" font-weight="bold" style="letter-spacing:0.76px">(a)</text>
<text x="1.2" y="352.2" font-size="20" font-weight="bold" style="letter-spacing:0.56px">(b)</text>
<text x="191.7" y="12.2" font-size="15" style="letter-spacing:0.20px">the</text>
<text x="220.8" y="12.2" font-size="15" style="letter-spacing:0.56px">sea level continued to rise,</text>
<text x="166.0" y="29.6" font-size="15" style="letter-spacing:0.51px">and evaporites began to migrate laterally</text>
<text x="600.4" y="46" font-size="25.5" style="letter-spacing:-0.07px">sea</text>
<text x="656.0" y="46" font-size="25.5" style="letter-spacing:1.76px">level</text>
<text x="116.8" y="180.1" font-size="15" style="letter-spacing:0.57px">evaporites formed during</text>
<text x="105.0" y="196" font-size="15" style="letter-spacing:0.51px">the relatively high sea level</text>
<text x="502.4" y="288.2" font-size="15" style="letter-spacing:0.62px">evaporites formed during</text>
<text x="498.6" y="304.6" font-size="15" style="letter-spacing:0.46px">the relatively low sea level</text>
<text x="178.3" y="281.2" font-size="18" style="letter-spacing:0.25px">evaporite</text>
<text x="8.3" y="417.1" font-size="13.2" style="letter-spacing:0.88px">Water</text>
<text x="9.0" y="432" font-size="13.2" style="letter-spacing:0.91px">depth</text>
<text x="16.2" y="465.8" font-size="12" style="letter-spacing:0.31px">Age</text>
<text x="63.8" y="503.4" font-size="10.8" style="letter-spacing:0.34px">MIOCENE</text>
<text x="122.0" y="503.6" font-size="10.8" style="letter-spacing:0.47px">OLIG</text>
<text x="166.3" y="504" font-size="10.8" style="letter-spacing:0.20px">MIOCENE</text>
<text x="223.0" y="504" font-size="10.8" style="letter-spacing:-0.30px">PAL</text>
<text x="276.3" y="502.8" font-size="13.5" style="letter-spacing:0.74px">Late</text>
<text x="382.5" y="502.8" font-size="13.5" style="letter-spacing:0.50px">Early</text>
<text x="483.4" y="503.5" font-size="10.8" style="letter-spacing:0.37px">MALM</text>
<text x="518.7" y="505.3" font-size="14" style="letter-spacing:-0.12px">DOGGER</text>
<text x="611.0" y="505" font-size="13.5" style="letter-spacing:0.18px">LIAS</text>
<text x="692.9" y="503.3" font-size="13.5" style="letter-spacing:0.78px">Late</text>
<text x="52.3" y="544.5" font-size="12" style="letter-spacing:0.52px">NEOGENE</text>
<text x="144.0" y="544.5" font-size="13.8" style="letter-spacing:0.55px">PALEOGENE</text>
<text x="319.8" y="544.8" font-size="14" style="letter-spacing:0.39px">CRETACEOUS</text>
<text x="534.3" y="545.7" font-size="14" style="letter-spacing:0.33px">JURASSIC</text>
<text x="688.2" y="543.8" font-size="14" style="letter-spacing:0.33px">TRIASSIC</text>
<text x="115.4" y="586.7" font-size="13.5" style="letter-spacing:0.67px">CENOZOIC</text>
<text x="473.7" y="588.9" font-size="14" style="letter-spacing:0.45px">MESOZOIC</text>
<text transform="translate(33.9,598.6) rotate(-90)" font-size="9.5" style="letter-spacing:0.04px;">CHRONOSTRATIGRAPHY</text>
<text transform="translate(60.9,503.4) rotate(-90)" font-size="11" style="letter-spacing:-1.14px;stroke-width:0.45px">PL</text>
<text transform="translate(794.1,530.7) rotate(-90)" font-size="16" style="letter-spacing:0.17px;">PALEOZOIC</text>
<text transform="translate(82.4,471.7) rotate(-90)" font-size="11.4" style="letter-spacing:-0.10px;">10</text>
<text transform="translate(112.2,471.7) rotate(-90)" font-size="11.4" style="letter-spacing:-0.10px;">20</text>
<text transform="translate(145.0,471.7) rotate(-90)" font-size="11.4" style="letter-spacing:-0.10px;">30</text>
<text transform="translate(173.0,471.7) rotate(-90)" font-size="11.4" style="letter-spacing:-0.10px;">40</text>
<text transform="translate(203.5,471.7) rotate(-90)" font-size="11.4" style="letter-spacing:-0.10px;">50</text>
<text transform="translate(231.0,471.7) rotate(-90)" font-size="11.4" style="letter-spacing:-0.10px;">60</text>
<text transform="translate(259.5,471.7) rotate(-90)" font-size="11.4" style="letter-spacing:-0.10px;">70</text>
<text transform="translate(291.5,471.7) rotate(-90)" font-size="11.4" style="letter-spacing:-0.10px;">80</text>
<text transform="translate(321.1,471.7) rotate(-90)" font-size="11.4" style="letter-spacing:-0.10px;">90</text>
<text transform="translate(350.0,474.0) rotate(-90)" font-size="11.4" style="letter-spacing:-0.10px;">100</text>
<text transform="translate(383.2,474.0) rotate(-90)" font-size="11.4" style="letter-spacing:-0.10px;">110</text>
<text transform="translate(410.4,474.0) rotate(-90)" font-size="11.4" style="letter-spacing:-0.10px;">120</text>
<text transform="translate(441.1,474.0) rotate(-90)" font-size="11.4" style="letter-spacing:-0.10px;">130</text>
<text transform="translate(469.7,474.0) rotate(-90)" font-size="11.4" style="letter-spacing:-0.10px;">140</text>
<text transform="translate(498.3,474.0) rotate(-90)" font-size="11.4" style="letter-spacing:-0.10px;">150</text>
<text transform="translate(527.9,474.0) rotate(-90)" font-size="11.4" style="letter-spacing:-0.10px;">160</text>
<text transform="translate(561.5,474.0) rotate(-90)" font-size="11.4" style="letter-spacing:-0.10px;">170</text>
<text transform="translate(588.2,474.0) rotate(-90)" font-size="11.4" style="letter-spacing:-0.10px;">180</text>
<text transform="translate(624.2,474.0) rotate(-90)" font-size="11.4" style="letter-spacing:-0.10px;">190</text>
<text transform="translate(651.0,474.0) rotate(-90)" font-size="11.4" style="letter-spacing:-0.10px;">200</text>
<text transform="translate(675.9,474.0) rotate(-90)" font-size="11.4" style="letter-spacing:-0.10px;">210</text>
<text transform="translate(705.2,474.0) rotate(-90)" font-size="11.4" style="letter-spacing:-0.10px;">220</text>
<text transform="translate(738.5,474.0) rotate(-90)" font-size="11.4" style="letter-spacing:-0.10px;">230</text>
</svg>
</body></html>
